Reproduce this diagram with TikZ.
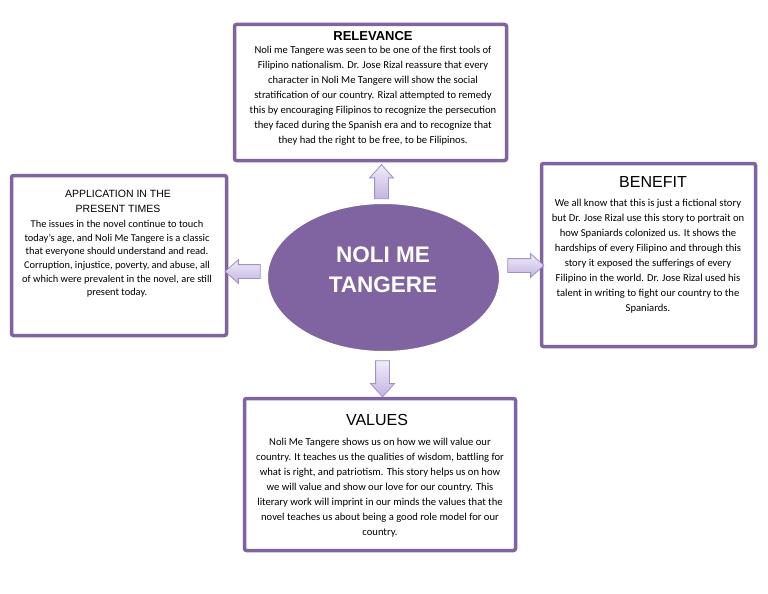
\documentclass[tikz,border=0pt]{standalone}
\usepackage{fontspec}
\setmainfont{Carlito}
\newfontfamily\arialf{Liberation Sans}
\usetikzlibrary{shapes.geometric,shapes.arrows}
\definecolor{boxpurple}{HTML}{8064A2}
\definecolor{ellpurple}{HTML}{8064A2}
\definecolor{arrowline}{HTML}{A090C8}
\definecolor{arrowlight}{HTML}{F0ECF8}
\definecolor{arrowdark}{HTML}{C4B4E2}
\begin{document}
\begin{tikzpicture}[x=1pt,y=-1pt,
  infobox/.style={draw=boxpurple,line width=3.5pt,fill=white,rounded corners=2pt,inner sep=0pt},
  bodytext/.style={align=center,inner sep=0pt,font=\fontsize{10.6}{15}\selectfont},
  titletext/.style={align=center,inner sep=0pt},
  blockarrow/.style={single arrow,draw=arrowline,line width=0.8pt,top color=arrowlight,bottom color=arrowdark,
     inner sep=6.5pt,minimum width=23pt,single arrow head extend=5pt,single arrow tip angle=84}
  ]
\useasboundingbox (0,0) rectangle (768,594);
\fill[white] (0,0) rectangle (768,594);

% boxes
\node[infobox,minimum width=272pt,minimum height=136pt] (relbox) at (370.5,92.5) {};
\node[infobox,minimum width=215pt,minimum height=160pt] (appbox) at (119,255.5) {};
\node[infobox,minimum width=214pt,minimum height=183pt] (benbox) at (648.5,255) {};
\node[infobox,minimum width=271pt,minimum height=152pt] (valbox) at (380,474.5) {};

% central ellipse
\node[ellipse,fill=ellpurple,draw=white,line width=2pt,minimum width=233pt,minimum height=149pt,inner sep=0pt] (core) at (383.5,277.5) {};
\node[text=white,align=center,inner sep=0pt,font=\arialf\bfseries\fontsize{22.5}{30}\selectfont] (coretext) at (383,270) {NOLI ME\\TANGERE};

% block arrows
\node[blockarrow,minimum height=34pt,shape border rotate=90] (aup) at (381.5,185.5) {};
\node[blockarrow,minimum height=36pt,shape border rotate=270] (adown) at (382.5,375) {};
\node[blockarrow,minimum height=35pt,shape border rotate=180] (aleft) at (246.5,271.5) {};
\node[blockarrow,minimum height=36pt,shape border rotate=0] (aright) at (522,265.5) {};

% titles
\node[titletext,font=\arialf\bfseries\fontsize{13}{15}\selectfont] (reltitle) at (373,36) {RELEVANCE};
\node[titletext,font=\arialf\fontsize{10.5}{15}\selectfont] (apptitle) at (118,201.5) {APPLICATION IN THE\\PRESENT TIMES};
\node[titletext,font=\arialf\fontsize{16}{18}\selectfont] (bentitle) at (653,182) {BENEFIT};
\node[titletext,font=\arialf\fontsize{16}{18}\selectfont] (valtitle) at (377,420) {VALUES};

% bodies
\node[bodytext] (relbody) at (373,96) {Noli me Tangere was seen to be one of the first tools of\\
Filipino nationalism. Dr. Jose Rizal reassure that every\\
character in Noli Me Tangere will show the social\\
stratification of our country. Rizal attempted to remedy\\
this by encouraging Filipinos to recognize the persecution\\
they faced during the Spanish era and to recognize that\\
they had the right to be free, to be Filipinos.};

\node[bodytext,font=\fontsize{10.4}{13.6}\selectfont] (appbody) at (117,259) {The issues in the novel continue to touch\\
today's age, and Noli Me Tangere is a classic\\
that everyone should understand and read.\\
Corruption, injustice, poverty, and abuse, all\\
of which were prevalent in the novel, are still\\
present today.};

\node[bodytext] (benbody) at (648,256) {We all know that this is just a fictional story\\
but Dr. Jose Rizal use this story to portrait on\\
how Spaniards colonized us. It shows the\\
hardships of every Filipino and through this\\
story it exposed the sufferings of every\\
Filipino in the world. Dr. Jose Rizal used his\\
talent in writing to fight our country to the\\
Spaniards.};

\node[bodytext] (valbody) at (380,488) {Noli Me Tangere shows us on how we will value our\\
country. It teaches us the qualities of wisdom, battling for\\
what is right, and patriotism. This story helps us on how\\
we will value and show our love for our country. This\\
literary work will imprint in our minds the values that the\\
novel teaches us about being a good role model for our\\
country.};
\end{tikzpicture}
\end{document}
